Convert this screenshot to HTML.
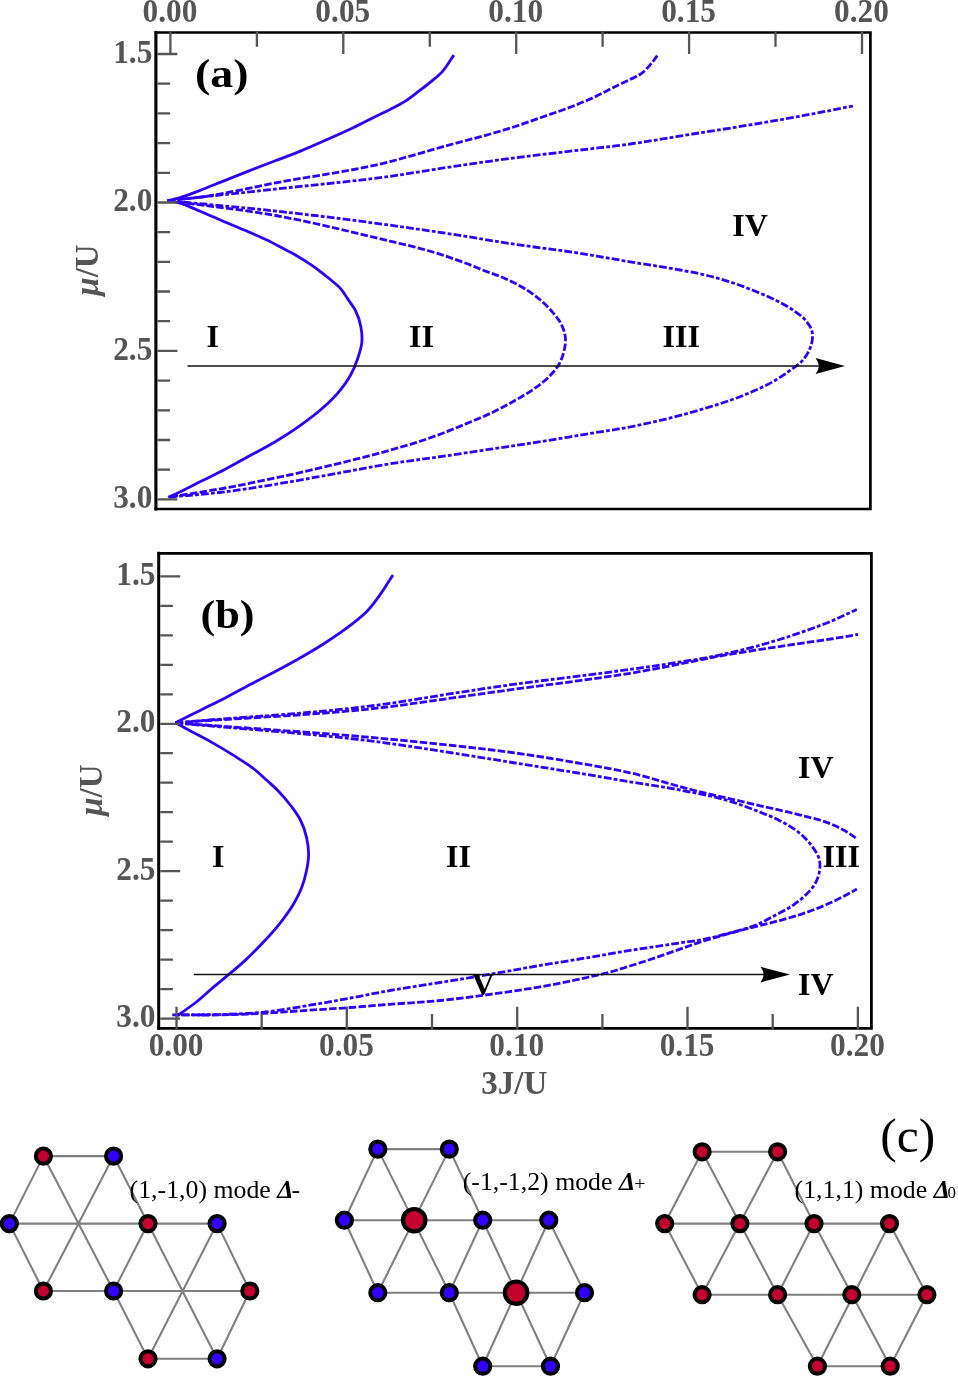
<!DOCTYPE html>
<html lang="en"><head><meta charset="utf-8"><title>Phase diagram</title>
<style>html,body{margin:0;padding:0;background:#fff}svg{display:block}text{font-family:"Liberation Serif",serif}.tk{font-weight:bold;fill:#555555;font-size:33px}.rg{font-weight:bold;fill:#000;font-size:32px}.pl{font-weight:bold;fill:#000;font-size:41.5px}.md{fill:#000;font-size:24.4px}</style></head><body>
<svg width="958" height="1377" viewBox="0 0 958 1377">
<rect width="958" height="1377" fill="#fff"/>
<path d="M167.6 200.7C170.9 199.9 174.3 199.3 177.6 198.4C185.3 196.4 192.6 193.2 200.1 190.4C208.5 187.2 216.8 183.7 225.2 180.4C233.6 177.1 241.9 173.7 250.3 170.4C258.6 167.1 267.0 164.0 275.3 160.8C283.7 157.6 292.1 154.5 300.4 151.1C308.8 147.7 317.1 144.0 325.4 140.3C333.8 136.6 342.2 132.9 350.5 129.0C358.9 125.0 367.2 120.6 375.6 116.5C380.4 114.1 385.3 111.9 390.1 109.5C395.1 106.9 400.2 104.4 405.0 101.4C410.3 98.1 415.1 94.0 420.1 90.2C423.9 87.3 427.7 84.5 431.4 81.4C435.2 78.2 439.3 75.2 442.6 71.4C444.9 68.7 446.9 65.6 448.9 62.6C450.6 60.1 452.2 57.6 453.9 55.1" fill="none" stroke="#2d00fa" stroke-width="2.8"/>
<path d="M167.6 200.7C171.3 201.4 175.1 201.9 178.8 202.8C186.1 204.7 193.0 208.3 200.0 211.2C207.8 214.4 215.4 217.9 223.1 221.2C230.7 224.4 238.5 227.5 246.1 230.8C253.4 234.0 260.7 237.1 267.9 240.6C272.4 242.8 276.9 245.2 281.4 247.5C286.0 249.9 290.5 252.2 295.0 254.8C299.6 257.4 304.2 260.2 308.6 263.1C312.3 265.5 315.9 268.1 319.4 270.8C323.3 273.8 327.2 276.8 331.0 280.0C334.4 282.9 337.9 285.6 340.8 288.9C343.4 291.9 345.4 295.6 347.7 298.9C350.2 302.6 353.2 306.1 355.2 310.0C358.0 315.4 360.0 321.6 361.0 327.6C361.9 332.5 362.3 337.7 361.8 342.7C361.3 347.8 359.6 352.8 358.0 357.7C356.0 363.7 353.6 369.8 350.5 375.3C347.1 381.5 342.6 387.4 338.0 392.8C333.4 398.2 328.2 403.1 322.9 407.8C315.8 414.2 308.1 419.9 300.4 425.4C292.3 431.2 283.9 436.6 275.3 441.7C267.1 446.6 258.6 450.9 250.2 455.5C241.9 460.1 233.6 464.8 225.2 469.2C216.9 473.6 208.4 477.6 200.0 481.8C191.7 486.0 183.5 490.5 175.0 494.3C172.7 495.3 170.5 496.2 168.2 497.2" fill="none" stroke="#2d00fa" stroke-width="2.8"/>
<path d="M167.6 200.7C178.4 199.5 189.2 198.6 200.0 197.2C225.3 193.9 250.2 187.6 275.3 182.9C313.5 175.7 352.4 171.3 390.1 161.6C400.1 159.0 410.0 156.1 420.0 153.3C430.9 150.2 441.8 147.0 452.7 144.0C465.2 140.6 477.8 137.6 490.3 134.0C498.7 131.6 507.0 129.2 515.3 126.5C523.7 123.8 532.0 120.6 540.4 117.7C548.7 114.8 557.1 112.1 565.4 109.0C573.8 105.8 582.3 102.6 590.5 98.9C599.0 95.1 607.2 90.5 615.6 86.4C620.4 84.1 625.2 81.8 630.0 79.5C633.3 77.9 636.9 76.6 640.0 74.5C643.8 72.0 647.0 68.5 650.0 65.1C652.8 62.0 655.1 58.4 657.6 55.1" fill="none" stroke="#2d00fa" stroke-width="2.8" stroke-dasharray="7.5 2.3"/>
<path d="M167.6 200.7C203.5 205.6 239.7 209.1 275.3 215.5C313.8 222.4 351.9 232.0 390.0 241.2C402.5 244.2 415.2 246.9 427.6 250.5C440.3 254.2 452.8 258.3 465.2 263.0C471.1 265.2 476.8 267.7 482.7 270.0C489.4 272.6 496.2 274.7 502.8 277.5C509.6 280.5 516.4 283.7 522.8 287.5C528.9 291.2 535.0 295.3 540.4 300.0C544.9 303.9 549.1 308.1 552.9 312.6C556.1 316.5 559.6 320.5 561.7 325.1C563.5 329.0 565.0 333.4 565.4 337.7C565.8 341.8 565.1 346.1 564.2 350.2C563.2 354.9 561.5 359.8 559.2 364.0C556.9 368.1 553.6 371.8 550.4 375.3C546.0 380.0 540.6 384.0 535.4 387.8C529.1 392.5 522.1 396.4 515.3 400.3C507.2 405.0 498.8 409.4 490.3 413.4C482.1 417.3 473.6 420.6 465.2 424.1C456.9 427.6 448.5 431.0 440.1 434.2C431.8 437.3 423.5 440.2 415.1 442.9C406.8 445.5 398.4 447.8 390.0 450.2C368.6 456.2 347.0 461.5 325.4 466.7C308.7 470.7 292.0 474.4 275.3 478.0C258.6 481.5 242.0 485.0 225.2 488.0C206.3 491.4 187.2 494.1 168.2 497.2" fill="none" stroke="#2d00fa" stroke-width="2.8" stroke-dasharray="7.5 2.3"/>
<path d="M167.6 200.7C203.5 196.8 239.4 193.0 275.3 189.1C313.5 184.9 351.9 181.6 390.0 176.3C410.9 173.4 431.8 169.7 452.7 166.6C473.5 163.5 494.4 160.5 515.3 157.8C536.2 155.1 557.1 152.8 578.0 150.3C595.3 148.2 612.7 146.4 630.0 144.0C651.0 141.1 671.8 137.3 692.7 134.0C713.6 130.7 734.5 127.5 755.3 124.0C772.0 121.2 788.7 118.3 805.4 115.2C821.3 112.3 837.1 109.1 853.0 106.0" fill="none" stroke="#2d00fa" stroke-width="2.8" stroke-dasharray="7.8 2.2 3.8 2.2"/>
<path d="M167.6 200.7C203.5 204.1 239.5 207.1 275.3 211.0C313.6 215.2 351.8 219.9 390.0 225.2C410.9 228.1 431.8 231.1 452.7 234.3C473.6 237.5 494.4 241.2 515.3 244.3C536.2 247.4 557.2 249.8 578.0 253.0C595.4 255.7 612.7 258.9 630.0 261.8C646.7 264.6 663.5 266.9 680.1 270.0C688.5 271.6 696.9 273.0 705.2 275.0C713.6 277.0 722.0 279.3 730.2 282.0C738.7 284.7 747.0 287.9 755.3 291.3C762.0 294.0 768.8 296.7 775.3 300.0C781.3 303.0 787.4 306.2 792.9 310.0C797.3 313.0 802.0 316.1 805.4 320.1C807.9 323.1 810.6 326.4 811.7 330.1C812.5 332.8 812.6 336.0 812.4 338.9C812.1 342.7 810.8 346.7 809.2 350.2C807.6 353.8 805.4 357.2 802.9 360.2C799.5 364.2 794.7 367.0 790.4 370.2C785.5 373.8 780.5 377.2 775.3 380.3C768.9 384.1 762.1 387.2 755.3 390.3C747.1 394.0 738.7 397.3 730.2 400.3C722.0 403.2 713.6 405.8 705.2 408.3C696.9 410.8 688.5 413.2 680.1 415.4C671.8 417.6 663.4 419.7 655.0 421.6C646.7 423.5 638.4 425.4 630.0 427.0C616.9 429.5 603.7 431.2 590.5 433.4C573.8 436.1 557.1 439.1 540.4 441.7C523.7 444.3 507.0 446.7 490.3 449.2C473.6 451.7 456.8 454.3 440.1 456.7C423.4 459.1 406.7 461.2 390.0 463.8C368.4 467.2 346.9 471.7 325.4 475.5C308.7 478.5 292.0 481.6 275.3 484.3C258.6 487.0 242.0 489.7 225.2 491.8C206.3 494.1 187.2 495.4 168.2 497.2" fill="none" stroke="#2d00fa" stroke-width="2.8" stroke-dasharray="7.8 2.2 3.8 2.2"/>
<path d="M155.9 509.0V32.5" stroke="#000" stroke-width="3.1" fill="none" stroke-linecap="square"/>
<path d="M155.9 32.5H870.4V509.0H155.9" stroke="#000" stroke-width="2.7" fill="none" stroke-linecap="square"/>
<path d="M170.4 31.2V54.0M256.9 31.2V46.7M343.3 31.2V54.0M429.8 31.2V46.7M516.2 31.2V54.0M602.6 31.2V46.7M689.1 31.2V54.0M775.5 31.2V46.7M862.0 31.2V54.0M157.4 54.0H177.4M157.4 83.7H170.1M157.4 113.4H170.1M157.4 143.1H170.1M157.4 172.8H170.1M157.4 202.5H177.4M157.4 232.1H170.1M157.4 261.8H170.1M157.4 291.5H170.1M157.4 321.2H170.1M157.4 350.9H177.4M157.4 380.6H170.1M157.4 410.3H170.1M157.4 440.0H170.1M157.4 469.7H170.1M157.4 499.4H177.4" stroke="#555555" stroke-width="2.3" fill="none"/>
<path d="M187.5 365.9H822" stroke="#111" stroke-width="1.5"/>
<path d="M844.9 366L815.6 357.9Q818.6 362 819 366Q818.6 370 815.6 374.1Z" fill="#000"/>
<text class="tk" transform="translate(169.9 22) scale(0.95 1)" text-anchor="middle">0.00</text>
<text class="tk" transform="translate(342.8 22) scale(0.95 1)" text-anchor="middle">0.05</text>
<text class="tk" transform="translate(515.7 22) scale(0.95 1)" text-anchor="middle">0.10</text>
<text class="tk" transform="translate(688.6 22) scale(0.95 1)" text-anchor="middle">0.15</text>
<text class="tk" transform="translate(861.5 22) scale(0.95 1)" text-anchor="middle">0.20</text>
<text class="tk" transform="translate(152.3 62.6) scale(0.95 1)" text-anchor="end">1.5</text>
<text class="tk" transform="translate(152.3 211.1) scale(0.95 1)" text-anchor="end">2.0</text>
<text class="tk" transform="translate(152.3 359.5) scale(0.95 1)" text-anchor="end">2.5</text>
<text class="tk" transform="translate(152.3 508.0) scale(0.95 1)" text-anchor="end">3.0</text>
<text class="tk" transform="translate(98.4 270) rotate(-90)" text-anchor="middle"><tspan font-style="italic">μ</tspan>/U</text>
<text class="pl" style="font-size:40.5px" transform="translate(195 86.7) scale(1.135 1)">(a)</text>
<text class="rg" x="206.5" y="347">I</text>
<text class="rg" x="409" y="347">II</text>
<text class="rg" x="662.5" y="347">III</text>
<text class="rg" x="732.3" y="235.5">IV</text>
<path d="M175.5 722.8C183.7 718.7 191.9 714.5 200.1 710.4C208.5 706.2 216.9 702.2 225.2 697.9C233.6 693.6 241.8 689.0 250.2 684.6C258.5 680.2 267.0 676.0 275.3 671.6C283.7 667.1 292.1 662.6 300.4 657.8C308.8 652.9 317.2 648.0 325.4 642.7C334.0 637.2 342.5 631.5 350.5 625.2C356.5 620.5 362.8 615.8 368.0 610.2C372.7 605.2 376.6 599.5 380.6 593.9C383.9 589.2 386.8 584.3 390.0 579.5C391.0 578.0 392.0 576.5 393.0 575.0" fill="none" stroke="#2d00fa" stroke-width="2.8"/>
<path d="M175.5 722.8C180.8 725.7 186.0 728.6 191.3 731.4C197.5 734.8 203.9 737.9 210.1 741.4C218.6 746.2 227.0 751.2 235.2 756.4C241.6 760.5 248.1 764.3 254.0 769.0C258.4 772.4 262.4 776.3 266.5 780.0C270.3 783.5 274.2 786.8 277.8 790.5C282.2 795.1 286.4 799.9 290.3 805.0C293.9 809.8 297.7 814.7 300.4 820.0C303.2 825.5 305.2 831.6 306.6 837.6C307.8 842.9 308.6 848.5 308.6 853.9C308.6 859.3 307.7 864.8 306.6 870.2C305.4 876.1 303.8 882.1 301.6 887.7C299.3 893.8 296.1 899.6 292.8 905.2C289.1 911.4 284.7 917.1 280.3 922.8C274.9 929.8 268.9 936.3 262.8 942.8C257.1 948.8 251.3 954.8 245.2 960.4C239.6 965.6 233.6 970.5 227.7 975.4C222.7 979.6 217.6 983.7 212.6 987.9C206.7 992.9 201.2 998.3 195.1 1003.0C189.5 1007.4 183.4 1011.3 177.6 1015.5" fill="none" stroke="#2d00fa" stroke-width="2.8"/>
<path d="M175.5 722.8C247.0 717.4 318.9 715.4 390.0 706.6C410.9 704.0 431.8 700.8 452.7 697.9C473.6 695.0 494.4 691.9 515.3 689.1C536.2 686.2 557.1 683.7 578.0 680.8C595.3 678.4 612.7 676.2 630.0 673.3C646.7 670.5 663.4 667.3 680.0 664.0C690.9 661.8 701.8 659.4 712.7 657.3C726.8 654.6 741.1 652.5 755.3 650.2C767.8 648.2 780.4 646.4 792.9 644.5C805.4 642.6 818.0 641.0 830.5 639.0C839.7 637.6 848.8 636.0 858.0 634.5" fill="none" stroke="#2d00fa" stroke-width="2.8" stroke-dasharray="7.5 2.3"/>
<path d="M175.5 722.8C247.0 728.3 318.6 732.4 390.0 739.2C410.9 741.2 431.8 743.2 452.7 745.5C473.6 747.8 494.5 750.1 515.3 753.0C536.3 755.9 557.2 759.3 578.0 763.0C595.4 766.0 612.8 768.9 630.0 772.8C651.1 777.6 671.7 784.8 692.7 790.0C705.2 793.1 717.7 795.9 730.2 798.8C742.7 801.7 755.3 804.6 767.8 807.5C780.3 810.4 793.0 812.9 805.4 816.3C813.8 818.6 822.5 820.5 830.5 823.8C836.5 826.3 842.5 829.1 848.0 832.6C851.0 834.5 853.9 836.8 856.8 838.9" fill="none" stroke="#2d00fa" stroke-width="2.8" stroke-dasharray="7.5 2.3"/>
<path d="M172.5 1014.8C188.3 1014.8 204.2 1015.2 220.0 1014.9C234.3 1014.6 248.5 1014.1 262.8 1013.3C275.3 1012.6 287.9 1011.6 300.4 1010.8C317.1 1009.7 333.8 1008.7 350.5 1007.5C363.7 1006.5 376.8 1005.3 390.0 1004.3C406.7 1003.0 423.4 1002.2 440.1 1000.5C456.9 998.8 473.6 996.6 490.3 994.3C507.0 992.0 523.8 989.7 540.4 986.8C557.2 983.9 573.9 980.5 590.5 976.7C598.9 974.8 607.3 972.9 615.6 970.5C620.4 969.1 625.2 967.5 630.0 966.0C638.4 963.4 646.7 960.7 655.0 957.9C663.4 955.1 671.7 952.0 680.0 949.1C688.4 946.2 696.7 943.2 705.2 940.5C713.5 937.9 721.8 935.5 730.2 933.2C738.5 930.9 746.9 928.8 755.3 926.6C763.7 924.5 772.1 922.6 780.4 920.3C788.8 918.0 797.2 915.7 805.4 912.8C813.9 909.8 822.3 906.5 830.5 902.8C836.4 900.1 842.3 897.1 848.0 894.0C851.0 892.4 853.9 890.7 856.8 889.0" fill="none" stroke="#2d00fa" stroke-width="2.8" stroke-dasharray="7.5 2.3"/>
<path d="M175.5 722.8C247.0 716.3 319.0 713.6 390.0 703.4C410.9 700.4 431.8 696.6 452.7 693.4C473.5 690.2 494.4 687.0 515.3 684.1C536.2 681.2 557.1 678.8 578.0 676.1C595.3 673.9 612.7 671.8 630.0 669.4C646.7 667.1 663.4 664.7 680.0 662.0C690.9 660.3 701.9 658.6 712.7 656.5C727.0 653.7 741.2 650.3 755.3 646.5C767.9 643.1 780.5 639.3 792.9 635.2C805.6 631.0 818.2 626.5 830.5 621.4C839.4 617.7 848.0 613.4 856.8 609.4" fill="none" stroke="#2d00fa" stroke-width="2.8" stroke-dasharray="7.8 2.2 3.8 2.2"/>
<path d="M175.5 722.8C247.0 729.7 318.9 733.6 390.0 743.5C410.9 746.4 431.8 749.7 452.7 753.0C473.6 756.2 494.4 759.7 515.3 763.0C536.2 766.3 557.1 769.6 578.0 773.0C595.3 775.9 612.7 778.9 630.0 781.8C646.7 784.6 663.4 786.8 680.0 790.0C696.8 793.3 713.9 796.2 730.2 801.3C738.7 803.9 747.0 807.1 755.3 810.3C763.8 813.6 772.4 816.7 780.4 821.0C787.4 824.7 794.5 828.6 800.4 833.8C805.1 837.9 809.5 842.5 813.0 847.6C815.4 851.1 818.1 854.9 819.2 858.9C820.3 863.2 820.1 868.3 819.2 872.7C818.4 877.0 816.5 881.4 814.2 885.2C811.9 888.9 808.6 892.1 805.4 895.2C801.6 898.9 797.3 902.3 792.9 905.3C787.4 909.1 781.2 912.1 775.3 915.3C768.7 918.8 762.2 922.5 755.3 925.3C747.2 928.6 738.6 930.5 730.2 932.8C721.9 935.1 713.6 937.4 705.2 939.1C696.9 940.8 688.4 941.6 680.0 942.9C671.7 944.1 663.3 945.4 655.0 946.6C646.7 947.9 638.3 949.1 630.0 950.4C616.8 952.5 603.7 955.0 590.5 957.2C573.8 960.0 557.1 962.6 540.4 965.4C523.7 968.2 507.0 971.4 490.3 974.2C473.6 977.1 456.8 979.8 440.1 982.5C423.4 985.2 406.7 987.6 390.0 990.5C376.8 992.8 363.7 995.6 350.5 998.0C333.8 1001.1 317.1 1004.1 300.4 1006.8C287.9 1008.8 275.4 1011.0 262.8 1012.3C248.6 1013.7 234.3 1014.1 220.0 1014.5C204.2 1015.0 188.3 1014.7 172.5 1014.8" fill="none" stroke="#2d00fa" stroke-width="2.8" stroke-dasharray="7.8 2.2 3.8 2.2"/>
<path d="M158.7 1028.3V553.3" stroke="#000" stroke-width="3.0" fill="none" stroke-linecap="square"/>
<path d="M158.7 553.3H871.4V1028.3H158.7" stroke="#000" stroke-width="2.8" fill="none" stroke-linecap="square"/>
<path d="M176.5 1029.7V1006.8M261.7 1029.7V1014.1M346.8 1029.7V1006.8M432.0 1029.7V1014.1M517.2 1029.7V1006.8M602.4 1029.7V1014.1M687.5 1029.7V1006.8M772.7 1029.7V1014.1M857.9 1029.7V1006.8M160.2 576.3H180.2M160.2 605.8H172.9M160.2 635.3H172.9M160.2 664.8H172.9M160.2 694.3H172.9M160.2 723.8H180.2M160.2 753.2H172.9M160.2 782.7H172.9M160.2 812.2H172.9M160.2 841.7H172.9M160.2 871.2H180.2M160.2 900.7H172.9M160.2 930.2H172.9M160.2 959.7H172.9M160.2 989.2H172.9M160.2 1018.6H180.2" stroke="#555555" stroke-width="2.3" fill="none"/>
<clipPath id="cv"><rect x="460" y="974.6" width="50" height="40"/></clipPath>
<text class="rg" x="471.6" y="995.3" clip-path="url(#cv)">V</text>
<path d="M193.8 974.6H767" stroke="#111" stroke-width="1.5"/>
<path d="M790 974.6L760.6 966.8Q763.4 970.6 763.7 974.6Q763.4 978.6 760.6 982.5Z" fill="#000"/>
<text class="tk" transform="translate(176.1 1056) scale(0.95 1)" text-anchor="middle">0.00</text>
<text class="tk" transform="translate(346.4 1056) scale(0.95 1)" text-anchor="middle">0.05</text>
<text class="tk" transform="translate(516.8 1056) scale(0.95 1)" text-anchor="middle">0.10</text>
<text class="tk" transform="translate(687.1 1056) scale(0.95 1)" text-anchor="middle">0.15</text>
<text class="tk" transform="translate(857.5 1056) scale(0.95 1)" text-anchor="middle">0.20</text>
<text class="tk" transform="translate(155.4 584.9) scale(0.95 1)" text-anchor="end">1.5</text>
<text class="tk" transform="translate(155.4 732.4) scale(0.95 1)" text-anchor="end">2.0</text>
<text class="tk" transform="translate(155.4 879.8) scale(0.95 1)" text-anchor="end">2.5</text>
<text class="tk" transform="translate(155.4 1027.2) scale(0.95 1)" text-anchor="end">3.0</text>
<text class="tk" transform="translate(102.2 790.2) rotate(-90)" text-anchor="middle"><tspan font-style="italic">μ</tspan>/U</text>
<text class="tk" x="514.3" y="1093.5" text-anchor="middle">3J/U</text>
<text class="pl" style="font-size:40px" transform="translate(200.4 628.4) scale(1.107 1)">(b)</text>
<text class="rg" x="212" y="867">I</text>
<text class="rg" x="446" y="867">II</text>
<text class="rg" x="822.5" y="867">III</text>
<text class="rg" x="798" y="777.5">IV</text>
<text class="rg" x="798" y="995">IV</text>
<path d="M43.4 1156.1L113.6 1156.1M43.4 1156.1L9.4 1223.6M9.4 1223.6L43.4 1291.0M43.4 1291.0L113.6 1291.0M113.6 1156.1L148.0 1223.6M148.0 1223.6L113.6 1291.0M9.4 1223.6L148.0 1223.6M43.4 1156.1L113.6 1291.0M113.6 1156.1L43.4 1291.0M148.0 1223.6L217.1 1223.6M217.1 1223.6L249.8 1291.0M249.8 1291.0L217.1 1358.8M148.0 1358.8L217.1 1358.8M113.6 1291.0L148.0 1358.8M113.6 1291.0L249.8 1291.0M148.0 1223.6L217.1 1358.8M217.1 1223.6L148.0 1358.8" stroke="#808080" stroke-width="2.1" fill="none"/><circle cx="43.4" cy="1156.1" r="7.6" fill="#c3002f" stroke="#000" stroke-width="4"/><circle cx="113.6" cy="1156.1" r="7.6" fill="#3200ff" stroke="#000" stroke-width="4"/><circle cx="9.4" cy="1223.6" r="7.6" fill="#3200ff" stroke="#000" stroke-width="4"/><circle cx="148.0" cy="1223.6" r="7.6" fill="#c3002f" stroke="#000" stroke-width="4"/><circle cx="217.1" cy="1223.6" r="7.6" fill="#3200ff" stroke="#000" stroke-width="4"/><circle cx="43.4" cy="1291.0" r="7.6" fill="#c3002f" stroke="#000" stroke-width="4"/><circle cx="113.6" cy="1291.0" r="7.6" fill="#3200ff" stroke="#000" stroke-width="4"/><circle cx="249.8" cy="1291.0" r="7.6" fill="#c3002f" stroke="#000" stroke-width="4"/><circle cx="148.0" cy="1358.8" r="7.6" fill="#c3002f" stroke="#000" stroke-width="4"/><circle cx="217.1" cy="1358.8" r="7.6" fill="#3200ff" stroke="#000" stroke-width="4"/>
<path d="M377.8 1149.1L449.3 1149.1M377.8 1149.1L344.4 1220.2M344.4 1220.2L377.8 1292.7M377.8 1292.7L449.3 1292.7M449.3 1149.1L482.7 1220.2M482.7 1220.2L449.3 1292.7M344.4 1220.2L482.7 1220.2M377.8 1149.1L449.3 1292.7M449.3 1149.1L377.8 1292.7M482.7 1220.2L548.8 1220.2M548.8 1220.2L584.5 1292.7M584.5 1292.7L550.5 1366.2M482.7 1366.2L550.5 1366.2M449.3 1292.7L482.7 1366.2M449.3 1292.7L584.5 1292.7M482.7 1220.2L550.5 1366.2M548.8 1220.2L482.7 1366.2" stroke="#808080" stroke-width="2.1" fill="none"/><circle cx="377.8" cy="1149.1" r="7.6" fill="#3200ff" stroke="#000" stroke-width="4"/><circle cx="449.3" cy="1149.1" r="7.6" fill="#3200ff" stroke="#000" stroke-width="4"/><circle cx="344.4" cy="1220.2" r="7.6" fill="#3200ff" stroke="#000" stroke-width="4"/><circle cx="414.2" cy="1220.2" r="11.2" fill="#c3002f" stroke="#000" stroke-width="4.2"/><circle cx="482.7" cy="1220.2" r="7.6" fill="#3200ff" stroke="#000" stroke-width="4"/><circle cx="548.8" cy="1220.2" r="7.6" fill="#3200ff" stroke="#000" stroke-width="4"/><circle cx="377.8" cy="1292.7" r="7.6" fill="#3200ff" stroke="#000" stroke-width="4"/><circle cx="449.3" cy="1292.7" r="7.6" fill="#3200ff" stroke="#000" stroke-width="4"/><circle cx="516.1" cy="1292.7" r="11.2" fill="#c3002f" stroke="#000" stroke-width="4.2"/><circle cx="584.5" cy="1292.7" r="7.6" fill="#3200ff" stroke="#000" stroke-width="4"/><circle cx="482.7" cy="1366.2" r="7.6" fill="#3200ff" stroke="#000" stroke-width="4"/><circle cx="550.5" cy="1366.2" r="7.6" fill="#3200ff" stroke="#000" stroke-width="4"/>
<path d="M702.1 1151.8L777.6 1151.8M702.1 1151.8L664.7 1223.6M664.7 1223.6L702.1 1294.7M702.1 1294.7L777.6 1294.7M777.6 1151.8L814.0 1223.6M814.0 1223.6L777.6 1294.7M664.7 1223.6L814.0 1223.6M702.1 1151.8L777.6 1294.7M777.6 1151.8L702.1 1294.7M814.0 1223.6L889.5 1223.6M889.5 1223.6L926.9 1294.7M926.9 1294.7L890.2 1366.2M817.4 1366.2L890.2 1366.2M777.6 1294.7L817.4 1366.2M777.6 1294.7L926.9 1294.7M814.0 1223.6L890.2 1366.2M889.5 1223.6L817.4 1366.2" stroke="#808080" stroke-width="2.1" fill="none"/><circle cx="702.1" cy="1151.8" r="7.6" fill="#c3002f" stroke="#000" stroke-width="4"/><circle cx="777.6" cy="1151.8" r="7.6" fill="#c3002f" stroke="#000" stroke-width="4"/><circle cx="664.7" cy="1223.6" r="7.6" fill="#c3002f" stroke="#000" stroke-width="4"/><circle cx="739.9" cy="1223.6" r="7.6" fill="#c3002f" stroke="#000" stroke-width="4"/><circle cx="814.0" cy="1223.6" r="7.6" fill="#c3002f" stroke="#000" stroke-width="4"/><circle cx="889.5" cy="1223.6" r="7.6" fill="#c3002f" stroke="#000" stroke-width="4"/><circle cx="702.1" cy="1294.7" r="7.6" fill="#c3002f" stroke="#000" stroke-width="4"/><circle cx="777.6" cy="1294.7" r="7.6" fill="#c3002f" stroke="#000" stroke-width="4"/><circle cx="851.8" cy="1294.7" r="7.6" fill="#c3002f" stroke="#000" stroke-width="4"/><circle cx="926.9" cy="1294.7" r="7.6" fill="#c3002f" stroke="#000" stroke-width="4"/><circle cx="817.4" cy="1366.2" r="7.6" fill="#c3002f" stroke="#000" stroke-width="4"/><circle cx="890.2" cy="1366.2" r="7.6" fill="#c3002f" stroke="#000" stroke-width="4"/>
<text class="md" transform="translate(129.6 1197.8) scale(1.058 1)">(1,-1,0) mode <tspan font-weight="bold" font-style="italic">Δ</tspan><tspan font-size="24.4px" dx="-1.8">-</tspan></text>
<text class="md" transform="translate(462.7 1189.6) scale(1.058 1)">(-1,-1,2) mode <tspan font-weight="bold" font-style="italic">Δ</tspan><tspan font-size="19px" dx="-0.8">+</tspan></text>
<text class="md" transform="translate(794.6 1198.4) scale(1.058 1)">(1,1,1) mode <tspan font-weight="bold" font-style="italic">Δ</tspan><tspan font-size="16px" dx="-2.2">0</tspan></text>
<text x="880.3" y="1152" font-size="49.5px" fill="#000">(c)</text>
</svg></body></html>
